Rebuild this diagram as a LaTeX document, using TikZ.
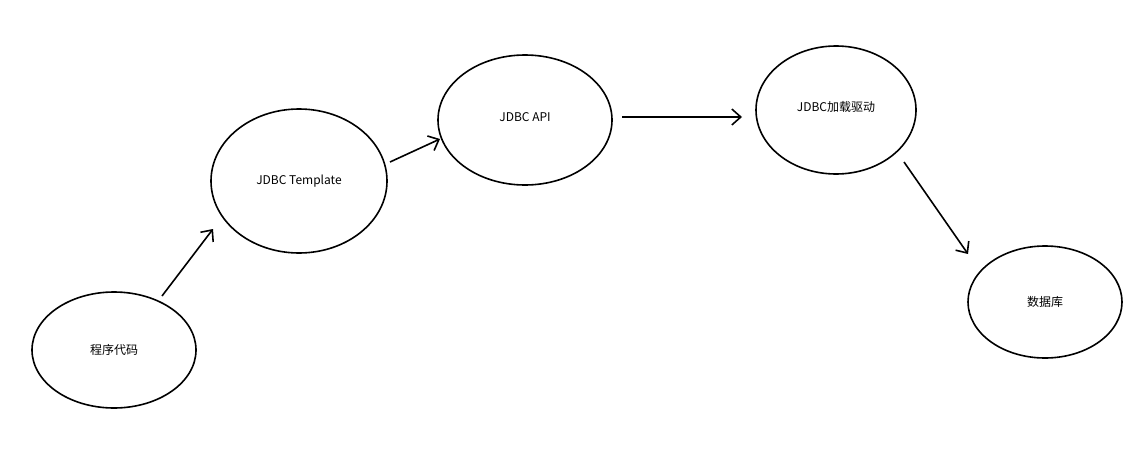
\documentclass[tikz,border=0pt]{standalone}
\usepackage{fontspec}
\setmainfont{Noto Sans CJK SC}
\usetikzlibrary{shapes.geometric,arrows.meta}
\begin{document}
\begin{tikzpicture}[x=1pt,y=-1pt,
  oval/.style={draw,line width=1.6pt,ellipse,inner sep=0pt,font=\fontsize{12}{14}\selectfont},
  conn/.style={line width=1.6pt,-{Straight Barb[length=9pt,width=16pt,line width=1.6pt]}}]
\path[use as bounding box,fill=white] (0,0) rectangle (1147,452);
\node[oval,minimum width=164pt,minimum height=116pt] (a) at (114,350) {程序代码};
\node[oval,minimum width=176pt,minimum height=144pt] (b) at (299,181) {JDBC Template};
\node[oval,minimum width=174pt,minimum height=130pt] (c) at (525,120) {\raisebox{6pt}{JDBC API}};
\node[oval,minimum width=160pt,minimum height=128pt] (d) at (836,110) {\raisebox{8pt}{JDBC加载驱动}};
\node[oval,minimum width=154pt,minimum height=112pt] (e) at (1045,302) {数据库};
\coordinate (a1) at (162,296); \coordinate (b0) at (213,229);
\coordinate (b1) at (390,162); \coordinate (c0) at (440,139);
\coordinate (c1) at (622,117); \coordinate (d0) at (742,117);
\coordinate (d1) at (904,162); \coordinate (e0) at (968,254);
\draw[conn] (a1) -- (b0);
\draw[conn] (b1) -- (c0);
\draw[conn] (c1) -- (d0);
\draw[conn] (d1) -- (e0);
\end{tikzpicture}
\end{document}
